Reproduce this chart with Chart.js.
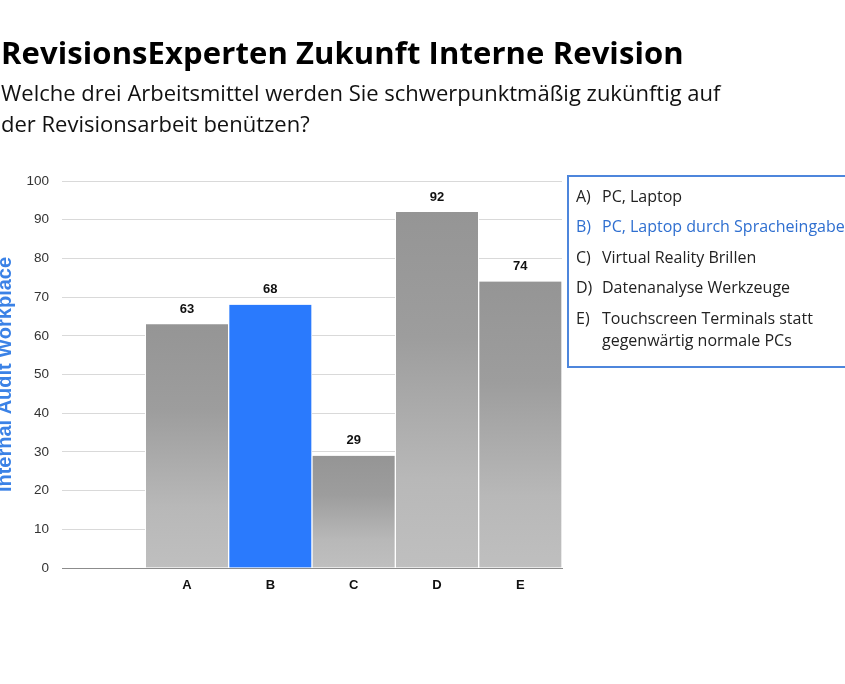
<!DOCTYPE html>
<html>
<head>
<meta charset="utf-8">
<script src="https://cdn.jsdelivr.net/npm/chart.js@4"></script>
<style>
  html, body { margin: 0; padding: 0; background: #fff; }
  body { width: 845px; height: 684px; overflow: hidden; position: relative; font-family: "Open Sans", sans-serif; }
  #chartBox { position: absolute; left: 0; top: 0; width: 845px; height: 684px; }
  .title { position: absolute; left: 1px; top: 31px; font-size: 31px; font-weight: bold; color: #000; white-space: nowrap; letter-spacing: 0.1px; }
  .subtitle { position: absolute; left: 1px; top: 77px; font-size: 22px; line-height: 31px; color: #111; white-space: nowrap; }
  .legend { position: absolute; left: 567px; top: 175px; width: 300px; height: 189px; border: 2px solid #4d86dc; }
  .legend .item { position: absolute; left: 7px; display: flex; font-size: 16px; line-height: 22px; color: #222; white-space: nowrap; }
  .legend .item .key { width: 26px; flex: none; }
  .legend .item.hl { color: #2f6fd0; }
</style>
</head>
<body>
<div id="chartBox"><canvas id="myChart"></canvas></div>

<div class="title">RevisionsExperten Zukunft Interne Revision</div>
<div class="subtitle">Welche drei Arbeitsmittel werden Sie schwerpunktmäßig zukünftig auf<br>der Revisionsarbeit benützen?</div>

<div class="legend" id="legend"></div>

<script>
// categories (first slot is an empty category, as in the original)
const categories = ["", "A", "B", "C", "D", "E"];
const values = [null, 63, 68, 29, 92, 74];
const yTicks = [0, 10, 20, 30, 40, 50, 60, 70, 80, 90, 100];
const legendKeys = ["A)", "B)", "C)", "D)", "E)"];
const legendTexts = [
  "PC, Laptop",
  "PC, Laptop durch Spracheingabe",
  "Virtual Reality Brillen",
  "Datenanalyse Werkzeuge",
  "Touchscreen Terminals statt<br>gegenwärtig normale PCs",
];
const highlight = "B";

// legend box (plain html text)
const legendTops = [8, 38, 69, 99, 130];
const legendEl = document.getElementById("legend");
legendKeys.forEach(function (k, i) {
  const row = document.createElement("div");
  row.className = "item" + (categories[i + 1] === highlight ? " hl" : "");
  row.style.top = legendTops[i] + "px";
  row.innerHTML = '<span class="key">' + k + "</span><span>" + legendTexts[i] + "</span>";
  legendEl.appendChild(row);
});

// gray gradient per bar, blue for the highlighted one
function barColor(context) {
  const chart = context.chart;
  if (categories[context.dataIndex] === highlight) return "#2a7afd";
  const yScale = chart.scales.y;
  if (!yScale || context.raw == null) return "#a8a8a8";
  const top = yScale.getPixelForValue(context.raw);
  const bottom = yScale.getPixelForValue(0);
  const g = chart.ctx.createLinearGradient(0, top, 0, bottom);
  g.addColorStop(0, "#959595");
  g.addColorStop(0.35, "#9d9d9d");
  g.addColorStop(0.75, "#b8b8b8");
  g.addColorStop(1, "#bfbfbf");
  return g;
}

// value labels on top of bars
const valueLabels = {
  id: "valueLabels",
  afterDatasetsDraw(chart) {
    const ctx = chart.ctx;
    const meta = chart.getDatasetMeta(0);
    ctx.save();
    ctx.font = "bold 13px 'Liberation Sans', Arial, sans-serif";
    ctx.fillStyle = "#111";
    ctx.textAlign = "center";
    ctx.textBaseline = "middle";
    meta.data.forEach(function (bar, i) {
      if (values[i] == null) return;
      ctx.fillText(String(values[i]), bar.x, bar.y - 15);
    });
    ctx.restore();
  },
};

const ctx = document.getElementById("myChart").getContext("2d");
new Chart(ctx, {
  type: "bar",
  data: {
    labels: categories,
    datasets: [
      {
        label: "Internal Audit Workplace",
        data: values,
        backgroundColor: barColor,
        borderColor: "#ffffff",
        borderWidth: { left: 1, right: 1, top: 0, bottom: 0 },
        borderSkipped: false,
        categoryPercentage: 1,
        barPercentage: 1,
      },
    ],
  },
  plugins: [valueLabels],
  options: {
    responsive: true,
    maintainAspectRatio: false,
    animation: false,
    layout: { padding: { left: 0, top: 181, right: 283, bottom: 86 } },
    plugins: {
      legend: { display: false },
      tooltip: { enabled: false },
    },
    scales: {
      x: {
        afterFit(scale) { scale.height = 30; },
        grid: { display: false, drawTicks: false },
        border: { color: "#8c8c8c", width: 1 },
        ticks: {
          padding: 10,
          color: "#111",
          font: { family: "'Liberation Sans', Arial, sans-serif", size: 13, weight: "bold" },
        },
      },
      y: {
        min: 0,
        max: 100,
        afterFit(scale) { scale.width = 62; },
        afterBuildTicks(scale) { scale.ticks = yTicks.map(function (v) { return { value: v }; }); },
        grid: { color: "#d9d9d9", lineWidth: 1, drawTicks: false },
        border: { display: false },
        ticks: {
          padding: 13,
          color: "#333",
          font: { family: "'Liberation Sans', Arial, sans-serif", size: 13.5 },
        },
        title: {
          display: true,
          text: "Internal Audit Workplace",
          color: "#3b82e6",
          padding: 0,
          font: { family: "'Liberation Sans', Arial, sans-serif", size: 20, weight: "bold", lineHeight: 0.5 },
        },
      },
    },
  },
});
</script>
</body>
</html>
